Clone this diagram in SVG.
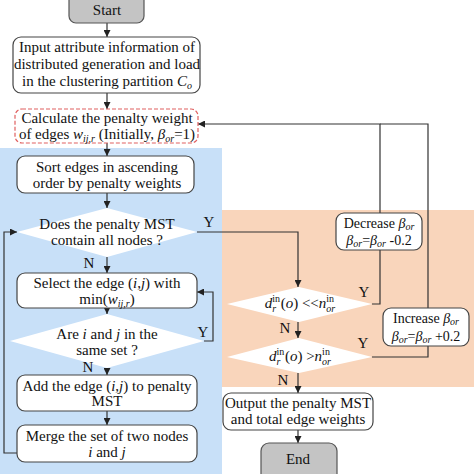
<svg xmlns="http://www.w3.org/2000/svg" width="474" height="474" viewBox="0 0 474 474">
<defs>
<marker id="ah" viewBox="0 0 10 10" refX="10" refY="5" markerWidth="7" markerHeight="7" markerUnits="userSpaceOnUse" orient="auto">
<path d="M0,0 L10,5 L0,10 z" fill="#222"/>
</marker>
<style>
.t{font-family:"Liberation Serif","Times New Roman",serif;font-size:15px;fill:#111;text-anchor:middle}
.sm{font-size:14px}
.i{font-style:italic}
.s{font-size:10px}
.box{fill:#fff;stroke:#444;stroke-width:1.2}
.term{fill:#c4c4c4;stroke:#555;stroke-width:1.2}
.dia{fill:#fff;stroke:none}
.c{fill:none;stroke:#333;stroke-width:1.2}
.ca{fill:none;stroke:#333;stroke-width:1.2;marker-end:url(#ah)}
</style>
</defs>
<rect x="0" y="148" width="222" height="326" fill="#c8e0f8"/>
<rect x="222" y="210" width="252" height="177" fill="#f9d5bb"/>

<g id="connectors">
<path class="ca" d="M107,23 V37"/>
<path class="ca" d="M107,93 V109"/>
<path class="ca" d="M107,143 V156"/>
<path class="ca" d="M107,193 V208"/>
<path class="ca" d="M107,257 V273"/>
<path class="ca" d="M107,308 V314"/>
<path class="ca" d="M107,368 V375"/>
<path class="ca" d="M107,411 V425"/>
<path class="ca" d="M17,453 H4 V232 H17"/>
<path class="ca" d="M204,341 H213 V292 H197"/>
<path class="ca" d="M197,232 H298 V287"/>
<path class="ca" d="M298,322 V338"/>
<path class="ca" d="M298,373 V393"/>
<path class="ca" d="M298,430 V443"/>
<path class="c" d="M372,304 H380 V250"/>
<path class="ca" d="M380,213 V124 H198"/>
<path class="c" d="M372,357 H428 V346"/>
<path class="c" d="M428,308 V124 H380"/>
</g>

<g id="start">
<rect class="term" x="69" y="-8" width="75" height="31" rx="7"/>
<text class="t" x="107" y="15">Start</text>
</g>

<g id="input">
<rect class="box" x="13" y="37" width="187" height="56" rx="8"/>
<text class="t" x="107" y="52">Input attribute information of</text>
<text class="t" x="107" y="69">distributed generation and load</text>
<text class="t" x="107" y="86">in the clustering partition <tspan class="i">C</tspan><tspan class="s i" dy="3">o</tspan></text>
</g>

<g id="calc">
<rect x="15" y="109" width="183" height="34" rx="7" fill="#fff" stroke="#e06060" stroke-width="1.2" stroke-dasharray="4,2"/>
<text class="t" x="107" y="123">Calculate the penalty weight</text>
<text class="t" x="107" y="139">of edges <tspan class="i">w</tspan><tspan class="s i" dy="3">ij,r</tspan><tspan dy="-3"> (Initially, </tspan><tspan class="i">β</tspan><tspan class="s i" dy="3">or</tspan><tspan dy="-3">=1)</tspan></text>
</g>

<g id="sort">
<rect class="box" x="17" y="156" width="177" height="37" rx="8"/>
<text class="t" x="107" y="172">Sort edges in ascending</text>
<text class="t" x="107" y="188">order by penalty weights</text>
</g>

<g id="d1">
<polygon class="dia" points="107,208 197,232 107,257 17,232"/>
<text class="t" x="107" y="229">Does the penalty MST</text>
<text class="t" x="107" y="245">contain all nodes ?</text>
</g>
<text class="t" x="209" y="227">Y</text>
<text class="t" x="89" y="268">N</text>

<g id="select">
<rect class="box" x="17" y="273" width="180" height="35" rx="8"/>
<text class="t" x="107" y="288">Select the edge (<tspan class="i">i</tspan>,<tspan class="i">j</tspan>) with</text>
<text class="t" x="107" y="304">min(<tspan class="i">w</tspan><tspan class="s i" dy="3">ij,r</tspan><tspan dy="-3">)</tspan></text>
</g>

<g id="d2">
<polygon class="dia" points="107,314 204,341 107,368 10,341"/>
<text class="t" x="107" y="339">Are <tspan class="i">i</tspan> and <tspan class="i">j</tspan> in the</text>
<text class="t" x="107" y="355">same set ?</text>
</g>
<text class="t" x="203" y="337">Y</text>
<text class="t" x="88" y="372">N</text>

<g id="add">
<rect class="box" x="17" y="375" width="180" height="36" rx="8"/>
<text class="t" x="107" y="391">Add the edge (<tspan class="i">i</tspan>,<tspan class="i">j</tspan>) to penalty</text>
<text class="t" x="107" y="406">MST</text>
</g>

<g id="merge">
<rect class="box" x="17" y="425" width="180" height="37" rx="8"/>
<text class="t" x="107" y="441">Merge the set of two nodes</text>
<text class="t" x="107" y="457"><tspan class="i">i</tspan> and <tspan class="i">j</tspan></text>
</g>

<g id="decrease">
<rect class="box" x="336" y="213" width="86" height="37" rx="8"/>
<text class="t sm" x="379" y="228">Decrease <tspan class="i">β</tspan><tspan class="s i" dy="2">or</tspan></text>
<text class="t sm" x="379" y="245"><tspan class="i">β</tspan><tspan class="s i" dy="2">or</tspan><tspan dy="-2">=</tspan><tspan class="i">β</tspan><tspan class="s i" dy="2">or</tspan><tspan dy="-2"> -0.2</tspan></text>
</g>

<g id="increase">
<rect class="box" x="383" y="308" width="86" height="38" rx="8"/>
<text class="t sm" x="426" y="323">Increase <tspan class="i">β</tspan><tspan class="s i" dy="2">or</tspan></text>
<text class="t sm" x="426" y="341"><tspan class="i">β</tspan><tspan class="s i" dy="2">or</tspan><tspan dy="-2">=</tspan><tspan class="i">β</tspan><tspan class="s i" dy="2">or</tspan><tspan dy="-2"> +0.2</tspan></text>
</g>

<g id="d3">
<polygon class="dia" points="299,287 372,304 299,322 227,304"/>
<text class="t" x="300" y="308"><tspan class="i">d</tspan><tspan class="s" dy="-6">in</tspan><tspan class="s i" dx="-7.8" dy="10">r</tspan><tspan dx="4.5" dy="-4">(</tspan><tspan class="i">o</tspan>) &lt;&lt;<tspan class="i">n</tspan><tspan class="s" dy="-6">in</tspan><tspan class="s i" dx="-7.8" dy="10">or</tspan></text>
</g>
<text class="t" x="364" y="297">Y</text>
<text class="t" x="285" y="333">N</text>

<g id="d4">
<polygon class="dia" points="299,338 372,357 299,373 227,357"/>
<text class="t" x="300" y="361"><tspan class="i">d</tspan><tspan class="s" dy="-6">in</tspan><tspan class="s i" dx="-7.8" dy="10">r</tspan><tspan dx="4.5" dy="-4">(</tspan><tspan class="i">o</tspan>) &gt;<tspan class="i">n</tspan><tspan class="s" dy="-6">in</tspan><tspan class="s i" dx="-7.8" dy="10">or</tspan></text>
</g>
<text class="t" x="363" y="348">Y</text>
<text class="t" x="283" y="385">N</text>

<g id="output">
<rect class="box" x="223" y="393" width="150" height="37" rx="8"/>
<text class="t" x="298" y="408">Output the penalty MST</text>
<text class="t" x="298" y="424">and total edge weights</text>
</g>

<g id="end">
<rect class="term" x="261" y="443" width="76" height="40" rx="8"/>
<text class="t" x="298" y="464">End</text>
</g>
</svg>
